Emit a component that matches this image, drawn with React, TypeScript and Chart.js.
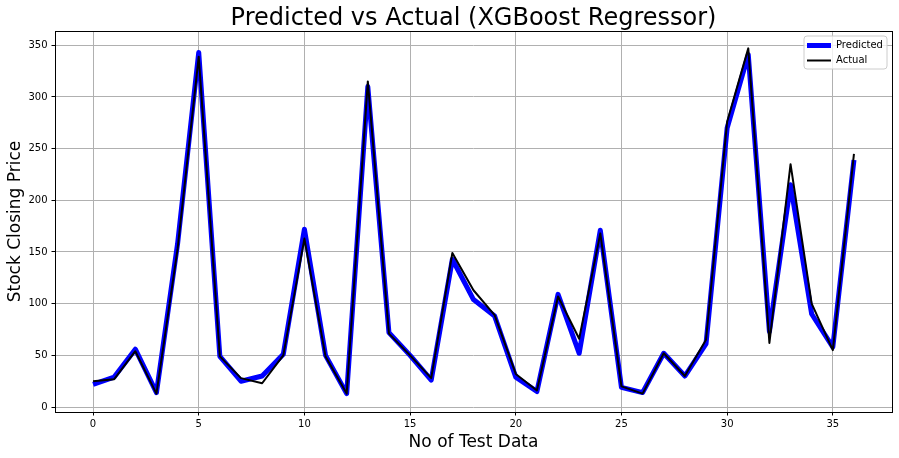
import React, { useEffect, useRef } from "react";
import { Chart, registerables } from "chart.js";

Chart.register(...registerables);

const predicted = [22, 29, 56, 14, 158, 343, 49, 25, 30, 51, 172, 50, 13, 310, 72, 50, 26, 143, 104, 88, 29, 15, 109, 52, 171, 19, 14, 52, 30, 61, 270, 341, 73, 215, 90, 58, 239];
const actual = [25, 27, 54, 13, 153, 339, 49, 28, 23, 50, 163, 49, 13, 315, 71, 50, 28, 149, 113, 89, 32, 16, 107, 66, 168, 20, 13, 52, 30, 65, 276, 347, 62, 235, 100, 55, 245];
const xTicks = [0, 5, 10, 15, 20, 25, 30, 35];
const yTicks = [0, 50, 100, 150, 200, 250, 300, 350];
const seriesLabels = ["Predicted", "Actual"];
const titleText = "Predicted vs Actual (XGBoost Regressor)";
const xTitle = "No of Test Data";
const yTitle = "Stock Closing Price";

const X_MIN = -1.8;
const X_MAX = 37.8;
const Y_MIN = -4.8;
const Y_MAX = 363.8;

const FONT = "DejaVu Sans";

const framePlugin = {
  id: "frame",
  afterDatasetsDraw(chart: any) {
    const { ctx, chartArea } = chart;
    ctx.save();
    ctx.strokeStyle = "#000";
    ctx.lineWidth = 1;
    ctx.strokeRect(
      Math.round(chartArea.left) + 0.5,
      Math.round(chartArea.top) + 0.5,
      Math.round(chartArea.right - chartArea.left),
      Math.round(chartArea.bottom - chartArea.top)
    );
    ctx.restore();
  },
};

const legendPlugin = {
  id: "mplLegend",
  afterDraw(chart: any) {
    const { ctx, chartArea } = chart;
    const ds = chart.data.datasets;
    const w = 83;
    const h = 33;
    const x0 = chartArea.right - 5 - w;
    const y0 = chartArea.top + 5;
    ctx.save();
    const r = 3;
    ctx.beginPath();
    ctx.moveTo(x0 + r, y0);
    ctx.lineTo(x0 + w - r, y0);
    ctx.arcTo(x0 + w, y0, x0 + w, y0 + r, r);
    ctx.lineTo(x0 + w, y0 + h - r);
    ctx.arcTo(x0 + w, y0 + h, x0 + w - r, y0 + h, r);
    ctx.lineTo(x0 + r, y0 + h);
    ctx.arcTo(x0, y0 + h, x0, y0 + h - r, r);
    ctx.lineTo(x0, y0 + r);
    ctx.arcTo(x0, y0, x0 + r, y0, r);
    ctx.closePath();
    ctx.fillStyle = "rgba(255,255,255,0.8)";
    ctx.fill();
    ctx.strokeStyle = "#cccccc";
    ctx.lineWidth = 1;
    ctx.stroke();
    ds.forEach((d: any, i: number) => {
      const cy = y0 + 9.5 + i * 15;
      ctx.beginPath();
      ctx.strokeStyle = d.borderColor;
      ctx.lineWidth = d.borderWidth;
      ctx.lineCap = "butt";
      ctx.moveTo(x0 + 3, cy);
      ctx.lineTo(x0 + 27, cy);
      ctx.stroke();
      ctx.fillStyle = "#000";
      ctx.font = `10px "${FONT}"`;
      ctx.textBaseline = "middle";
      ctx.textAlign = "left";
      ctx.fillText(d.label, x0 + 32, cy);
    });
    ctx.restore();
  },
};

export default function App() {
  const ref = useRef<HTMLCanvasElement | null>(null);

  useEffect(() => {
    document.body.style.margin = "0";
    const canvas = ref.current;
    if (!canvas) return;
    const chart = new Chart(canvas, {
      type: "line",
      data: {
        datasets: [
          {
            label: seriesLabels[0],
            data: predicted.map((v, i) => ({ x: i, y: v })),
            borderColor: "#0000ff",
            backgroundColor: "#0000ff",
            borderWidth: 5,
            pointRadius: 0,
            tension: 0,
            fill: false,
            borderJoinStyle: "round",
            order: 2,
          },
          {
            label: seriesLabels[1],
            data: actual.map((v, i) => ({ x: i, y: v })),
            borderColor: "#000000",
            backgroundColor: "#000000",
            borderWidth: 2,
            pointRadius: 0,
            tension: 0,
            fill: false,
            borderJoinStyle: "round",
            order: 1,
          },
        ],
      },
      options: {
        responsive: false,
        animation: false,
        layout: { padding: { left: 0, right: 7, top: 0, bottom: 0 } },
        plugins: {
          legend: { display: false },
          tooltip: { enabled: false },
          title: {
            display: true,
            text: titleText,
            color: "#000",
            fullSize: false,
            font: { family: FONT, size: 24, weight: "normal", lineHeight: 1 },
            padding: { top: 7, bottom: 0 },
          },
        },
        scales: {
          x: {
            type: "linear",
            min: X_MIN,
            max: X_MAX,
            afterBuildTicks: (s: any) => {
              s.ticks = xTicks.map((v) => ({ value: v }));
            },
            afterFit: (s: any) => {
              s.height = 46;
            },
            ticks: {
              color: "#000",
              font: { family: FONT, size: 10 },
              padding: 3,
              maxRotation: 0,
              autoSkip: false,
            },
            grid: {
              color: "#b0b0b0",
              lineWidth: 1,
              tickColor: "#000",
              tickLength: 3.5,
              drawTicks: true,
            },
            border: { display: false },
            title: {
              display: true,
              text: xTitle,
              color: "#000",
              font: { family: FONT, size: 17, lineHeight: 1.2 },
              padding: { top: 0, bottom: 5.3 },
            },
          },
          y: {
            type: "linear",
            min: Y_MIN,
            max: Y_MAX,
            afterBuildTicks: (s: any) => {
              s.ticks = yTicks.map((v) => ({ value: v }));
            },
            afterFit: (s: any) => {
              s.width = 55;
            },
            ticks: {
              color: "#000",
              font: { family: FONT, size: 10 },
              padding: 4,
              autoSkip: false,
            },
            grid: {
              color: "#b0b0b0",
              lineWidth: 1,
              tickColor: "#000",
              tickLength: 3.5,
              drawTicks: true,
            },
            border: { display: false },
            title: {
              display: true,
              text: yTitle,
              color: "#000",
              font: { family: FONT, size: 17, lineHeight: 1.2 },
              padding: { top: 5, bottom: 0 },
            },
          },
        },
      },
      plugins: [framePlugin, legendPlugin],
    } as any);
    return () => chart.destroy();
  }, []);

  return (
    <div style={{ width: 899, height: 458, background: "#fff" }}>
      <canvas ref={ref} width={899} height={458} style={{ width: 899, height: 458, display: "block" }} />
    </div>
  );
}
